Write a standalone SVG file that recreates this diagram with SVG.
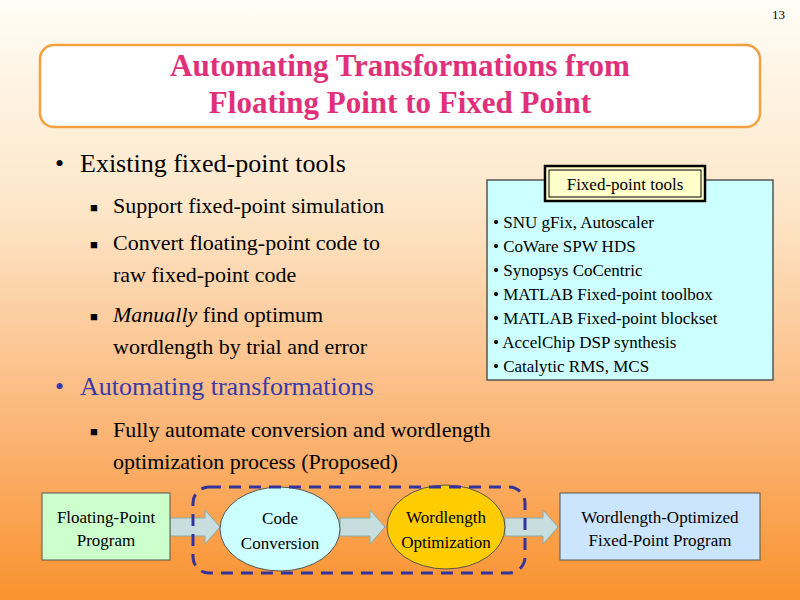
<svg xmlns="http://www.w3.org/2000/svg" width="800" height="600" viewBox="0 0 800 600" font-family="'Liberation Serif', 'Times New Roman', 'DejaVu Serif', serif">
<defs>
<linearGradient id="bg" x1="0" y1="0" x2="0" y2="1">
<stop offset="0" stop-color="#fffdf5"/>
<stop offset="0.35" stop-color="#fde6c8"/>
<stop offset="0.7" stop-color="#fbb77a"/>
<stop offset="1" stop-color="#f9922e"/>
</linearGradient>
</defs>
<style>
text{font-family:'Liberation Serif','Times New Roman','DejaVu Serif',serif;fill:#000}
.t{font-size:31px;font-weight:bold;fill:#e0307a;text-anchor:middle}
.b1{font-size:26px}
.b2{font-size:22px}
.tl{font-size:17px}
.n{font-size:17px;text-anchor:middle}
.arr{fill:#c8dede;stroke:#8aa;stroke-width:1}
</style>
<rect width="800" height="600" fill="url(#bg)"/>
<text x="785" y="19" style="font-size:13px" text-anchor="end">13</text>
<g id="title">
<rect x="40" y="45" width="720" height="82" rx="14" fill="#fff" stroke="#f5a040" stroke-width="2.5"/>
<text class="t" x="400" y="76">Automating Transformations from</text>
<text class="t" x="400" y="113">Floating Point to Fixed Point</text>
</g>
<g id="bullets">
<text class="b1" x="55" y="172">•</text><text class="b1" x="80" y="172">Existing fixed-point tools</text>
<text x="90" y="212" style="font-size:13px">■</text><text class="b2" x="113" y="213">Support fixed-point simulation</text>
<text x="90" y="249" style="font-size:13px">■</text><text class="b2" x="113" y="250">Convert floating-point code to</text>
<text class="b2" x="113" y="282">raw fixed-point code</text>
<text x="90" y="321" style="font-size:13px">■</text><text class="b2" x="113" y="322"><tspan font-style="italic">Manually</tspan> find optimum</text>
<text class="b2" x="113" y="354">wordlength by trial and error</text>
<text class="b1" x="55" y="395" style="fill:#3a3aa8">•</text><text class="b1" x="80" y="395" style="fill:#3a3aa8">Automating transformations</text>
<text x="90" y="436" style="font-size:13px">■</text><text class="b2" x="113" y="437">Fully automate conversion and wordlength</text>
<text class="b2" x="113" y="469">optimization process (Proposed)</text>
</g>
<g id="tools">
<rect x="487" y="180" width="286" height="200" fill="#ccffff" stroke="#555" stroke-width="1.5"/>
<rect x="545" y="166" width="160" height="35" fill="#ffffcc" stroke="#000" stroke-width="2.5"/>
<rect x="549" y="170" width="152" height="27" fill="none" stroke="#000" stroke-width="1"/>
<text class="n" x="625" y="190">Fixed-point tools</text>
<text class="tl" x="493" y="228">• SNU gFix, Autoscaler</text>
<text class="tl" x="493" y="252">• CoWare SPW HDS</text>
<text class="tl" x="493" y="276">• Synopsys CoCentric</text>
<text class="tl" x="493" y="300">• MATLAB Fixed-point toolbox</text>
<text class="tl" x="493" y="324">• MATLAB Fixed-point blockset</text>
<text class="tl" x="493" y="348">• AccelChip DSP synthesis</text>
<text class="tl" x="493" y="372">• Catalytic RMS, MCS</text>
</g>
<g id="connectors">
<polygon class="arr" points="170,518 205,518 205,510 220,527 205,544 205,536 170,536"/>
<polygon class="arr" points="340,518 370,518 370,510 385,527 370,544 370,536 340,536"/>
<polygon class="arr" points="505,518 543,518 543,510 558,527 543,544 543,536 505,536"/>
</g>
<g id="fp"><rect x="42" y="493" width="128" height="67" fill="#ccffcc" stroke="#555"/>
<text class="n" x="106" y="523">Floating-Point</text><text class="n" x="106" y="546">Program</text></g>
<g id="cc"><ellipse cx="280" cy="529" rx="60" ry="42" fill="#ccffff" stroke="#555"/>
<text class="n" x="280" y="524">Code</text><text class="n" x="280" y="549">Conversion</text></g>
<g id="wo"><ellipse cx="446" cy="527" rx="59" ry="42" fill="#ffcc00" stroke="#555"/>
<text class="n" x="446" y="523">Wordlength</text><text class="n" x="446" y="548">Optimization</text></g>
<g id="out"><rect x="560" y="493" width="200" height="67" fill="#cce5ff" stroke="#555"/>
<text class="n" x="660" y="523">Wordlength-Optimized</text><text class="n" x="660" y="546">Fixed-Point Program</text></g>
<g id="group"><rect x="193" y="487" width="332" height="86" rx="16" fill="none" stroke="#333399" stroke-width="3" stroke-dasharray="12,8"/></g>
</svg>
